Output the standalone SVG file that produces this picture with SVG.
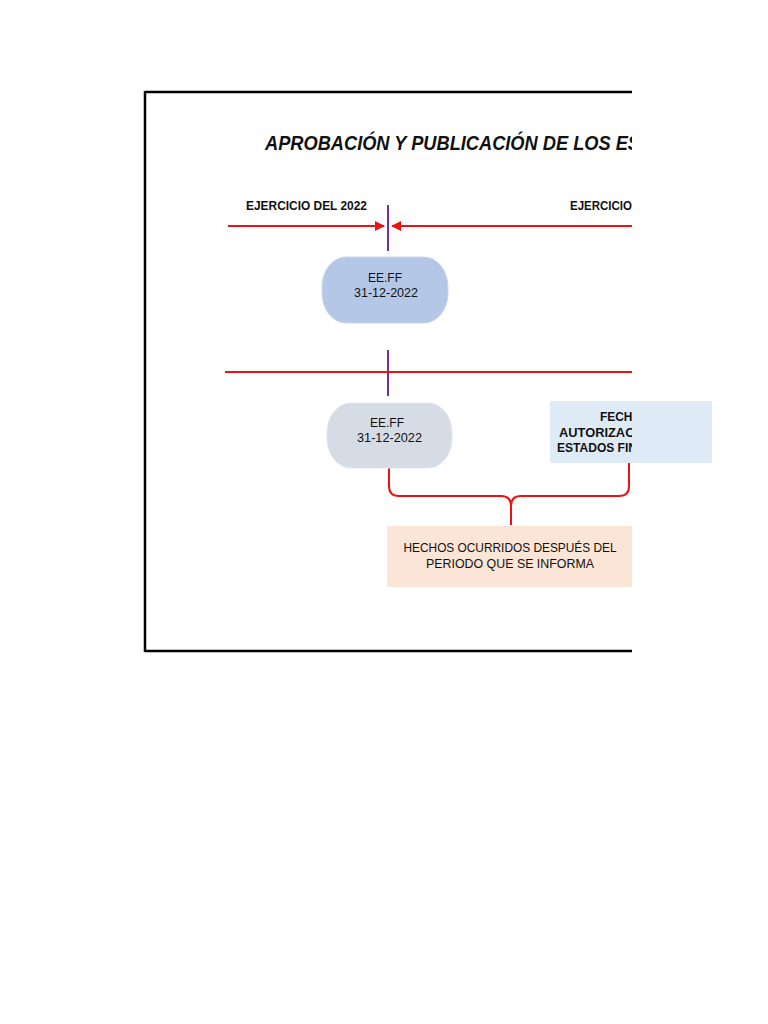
<svg xmlns="http://www.w3.org/2000/svg" width="768" height="1024" viewBox="0 0 768 1024">
<style>
text{font-family:"Liberation Sans",Arial,sans-serif;fill:#111;}
.b{font-weight:bold;}
.red{stroke:#EE1111;stroke-width:2;fill:none;}
.pur{stroke:#7030A0;stroke-width:2;}
</style>
<defs>
<clipPath id="cut"><rect x="0" y="0" width="632" height="1024"/></clipPath>
<marker id="ah" viewBox="0 0 10 10" refX="9" refY="5" markerWidth="5" markerHeight="5" orient="auto" markerUnits="strokeWidth"><path d="M0,0 L10,5 L0,10 z" fill="#EE1111"/></marker>
</defs>
<rect width="768" height="1024" fill="#fff"/>
<g id="frame" stroke="#000" stroke-width="2.5">
<line x1="145" y1="92" x2="632" y2="92"/>
<line x1="145" y1="91" x2="145" y2="652"/>
<line x1="145" y1="651" x2="632" y2="651"/>
</g>
<g clip-path="url(#cut)">
<text x="265" y="150" font-size="21" font-style="italic" class="b" textLength="375" lengthAdjust="spacingAndGlyphs">APROBACIÓN Y PUBLICACIÓN DE LOS ES</text>
<text x="246" y="210" font-size="13" class="b" textLength="121" lengthAdjust="spacingAndGlyphs">EJERCICIO DEL 2022</text>
<text x="570" y="210" font-size="13" class="b" textLength="62" lengthAdjust="spacingAndGlyphs">EJERCICIO</text>
</g>
<g id="connectors" clip-path="url(#cut)">
<line class="pur" x1="388" y1="205" x2="388" y2="251"/>
<line class="red" x1="228" y1="226" x2="384" y2="226" marker-end="url(#ah)"/>
<line class="red" x1="640" y1="226" x2="392" y2="226" marker-end="url(#ah)"/>
<line class="pur" x1="388" y1="350" x2="388" y2="396"/>
<line class="red" x1="225" y1="372" x2="640" y2="372"/>
<path class="red" d="M389,468 L389,486 Q389,496 399,496 L501,496 Q511,496 511,506 L511,525 M511,506 Q511,496 521,496 L619,496 Q629,496 629,486 L629,463"/>
</g>
<g id="node-eeff-1">
<rect x="322" y="257" width="126" height="66" rx="24" ry="30" fill="#B4C7E7" stroke="#C9D6EE" stroke-width="1"/>
<text x="385" y="282" font-size="13" text-anchor="middle" textLength="34" lengthAdjust="spacingAndGlyphs">EE.FF</text>
<text x="386" y="297" font-size="13" text-anchor="middle" textLength="64" lengthAdjust="spacingAndGlyphs">31-12-2022</text>
</g>
<g id="node-eeff-2">
<rect x="327" y="403" width="125" height="65" rx="24" ry="30" fill="#D6DCE5" stroke="#E0E5EC" stroke-width="1"/>
<text x="387" y="427" font-size="13" text-anchor="middle" textLength="34" lengthAdjust="spacingAndGlyphs">EE.FF</text>
<text x="389.5" y="442" font-size="13" text-anchor="middle" textLength="65" lengthAdjust="spacingAndGlyphs">31-12-2022</text>
</g>
<g id="node-fecha">
<rect x="550" y="401" width="162" height="62" fill="#DEEBF7"/>
<g clip-path="url(#cut)">
<text x="600" y="421" font-size="13" class="b" textLength="41" lengthAdjust="spacingAndGlyphs">FECHA</text>
<text x="559" y="437" font-size="13" class="b" textLength="79" lengthAdjust="spacingAndGlyphs">AUTORIZACI</text>
<text x="557" y="452" font-size="13" class="b" textLength="80" lengthAdjust="spacingAndGlyphs">ESTADOS FIN</text>
</g>
</g>
<g id="node-hechos">
<rect x="387" y="526" width="245" height="61" fill="#FBE5D6"/>
<text x="510" y="552" font-size="13" text-anchor="middle" textLength="213" lengthAdjust="spacingAndGlyphs">HECHOS OCURRIDOS DESPUÉS DEL</text>
<text x="510" y="568" font-size="13" text-anchor="middle" textLength="168" lengthAdjust="spacingAndGlyphs">PERIODO QUE SE INFORMA</text>
</g>
</svg>
